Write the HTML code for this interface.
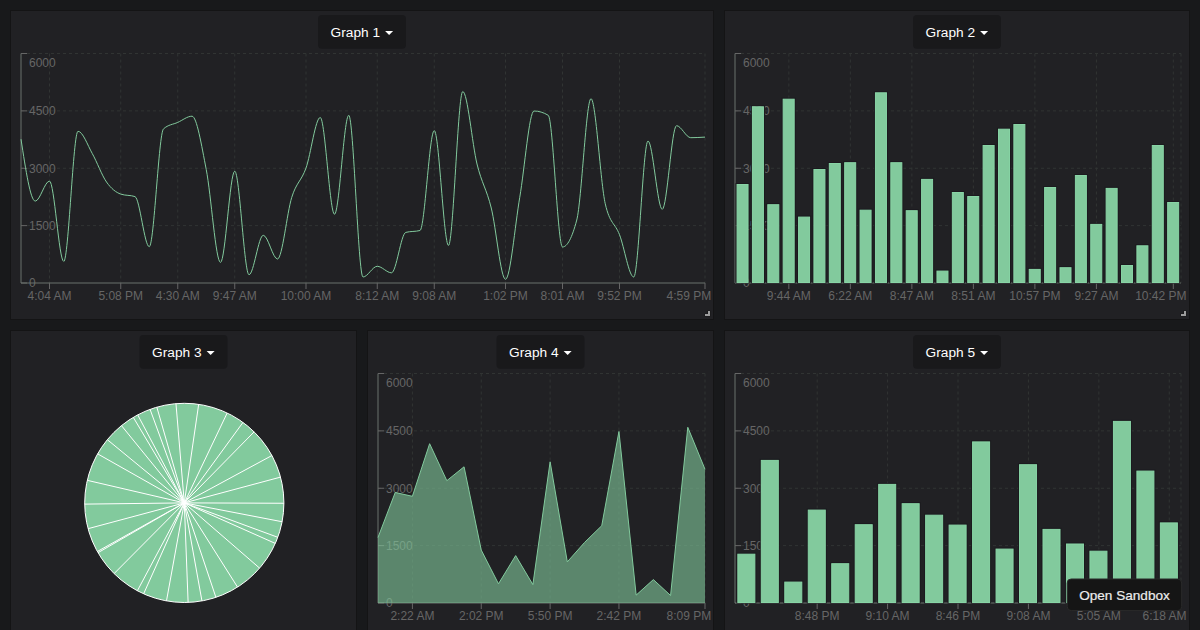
<!DOCTYPE html><html><head><meta charset="utf-8"><style>
html,body{margin:0;padding:0;background:#18191b;width:1200px;height:630px;overflow:hidden}
svg{display:block}
.t{font-family:"Liberation Sans",sans-serif;font-size:12px;fill:#666666}
.b{font-family:"Liberation Sans",sans-serif;font-size:13.7px;fill:#fff}
.s{font-family:"Liberation Sans",sans-serif;font-size:13.6px;fill:#ececec;stroke:#ececec;stroke-width:0.2px}
</style></head><body>
<svg width="1200" height="630" viewBox="0 0 1200 630">
<rect width="1200" height="630" fill="#18191b"/>
<rect x="10" y="10" width="704" height="310" fill="#141415"/><rect x="11" y="11" width="702" height="308" fill="#212124"/>
<rect x="724" y="10" width="466" height="310" fill="#141415"/><rect x="725" y="11" width="464" height="308" fill="#212124"/>
<rect x="10" y="330" width="347" height="310" fill="#141415"/><rect x="11" y="331" width="345" height="308" fill="#212124"/>
<rect x="367" y="330" width="347" height="310" fill="#141415"/><rect x="368" y="331" width="345" height="308" fill="#212124"/>
<rect x="724" y="330" width="466" height="310" fill="#141415"/><rect x="725" y="331" width="464" height="308" fill="#212124"/>
<line x1="21.00" y1="53.50" x2="705.00" y2="53.50" stroke="#313433" stroke-dasharray="3 3"/>
<line x1="21.00" y1="110.88" x2="705.00" y2="110.88" stroke="#313433" stroke-dasharray="3 3"/>
<line x1="21.00" y1="168.25" x2="705.00" y2="168.25" stroke="#313433" stroke-dasharray="3 3"/>
<line x1="21.00" y1="225.62" x2="705.00" y2="225.62" stroke="#313433" stroke-dasharray="3 3"/>
<line x1="49.50" y1="53.50" x2="49.50" y2="283.00" stroke="#313433" stroke-dasharray="3 3"/>
<line x1="120.75" y1="53.50" x2="120.75" y2="283.00" stroke="#313433" stroke-dasharray="3 3"/>
<line x1="177.75" y1="53.50" x2="177.75" y2="283.00" stroke="#313433" stroke-dasharray="3 3"/>
<line x1="234.75" y1="53.50" x2="234.75" y2="283.00" stroke="#313433" stroke-dasharray="3 3"/>
<line x1="306.00" y1="53.50" x2="306.00" y2="283.00" stroke="#313433" stroke-dasharray="3 3"/>
<line x1="377.25" y1="53.50" x2="377.25" y2="283.00" stroke="#313433" stroke-dasharray="3 3"/>
<line x1="434.25" y1="53.50" x2="434.25" y2="283.00" stroke="#313433" stroke-dasharray="3 3"/>
<line x1="505.50" y1="53.50" x2="505.50" y2="283.00" stroke="#313433" stroke-dasharray="3 3"/>
<line x1="562.50" y1="53.50" x2="562.50" y2="283.00" stroke="#313433" stroke-dasharray="3 3"/>
<line x1="619.50" y1="53.50" x2="619.50" y2="283.00" stroke="#313433" stroke-dasharray="3 3"/>
<line x1="705.00" y1="53.50" x2="705.00" y2="283.00" stroke="#313433" stroke-dasharray="3 3"/>
<line x1="21.00" y1="53.50" x2="21.00" y2="283.00" stroke="#6b736d"/>
<line x1="21.00" y1="53.50" x2="27.00" y2="53.50" stroke="#666666"/>
<text x="29.00" y="66.90" class="t">6000</text>
<line x1="21.00" y1="110.88" x2="27.00" y2="110.88" stroke="#666666"/>
<text x="29.00" y="115.17" class="t">4500</text>
<line x1="21.00" y1="168.25" x2="27.00" y2="168.25" stroke="#666666"/>
<text x="29.00" y="172.55" class="t">3000</text>
<line x1="21.00" y1="225.62" x2="27.00" y2="225.62" stroke="#666666"/>
<text x="29.00" y="229.93" class="t">1500</text>
<line x1="21.00" y1="283.00" x2="27.00" y2="283.00" stroke="#666666"/>
<text x="29.00" y="287.30" class="t">0</text>
<line x1="21.00" y1="283.00" x2="705.00" y2="283.00" stroke="#6b736d"/>
<line x1="49.50" y1="283.00" x2="49.50" y2="289.00" stroke="#666666"/>
<text x="49.50" y="299.70" class="t" text-anchor="middle">4:04 AM</text>
<line x1="120.75" y1="283.00" x2="120.75" y2="289.00" stroke="#666666"/>
<text x="120.75" y="299.70" class="t" text-anchor="middle">5:08 PM</text>
<line x1="177.75" y1="283.00" x2="177.75" y2="289.00" stroke="#666666"/>
<text x="177.75" y="299.70" class="t" text-anchor="middle">4:30 AM</text>
<line x1="234.75" y1="283.00" x2="234.75" y2="289.00" stroke="#666666"/>
<text x="234.75" y="299.70" class="t" text-anchor="middle">9:47 AM</text>
<line x1="306.00" y1="283.00" x2="306.00" y2="289.00" stroke="#666666"/>
<text x="306.00" y="299.70" class="t" text-anchor="middle">10:00 AM</text>
<line x1="377.25" y1="283.00" x2="377.25" y2="289.00" stroke="#666666"/>
<text x="377.25" y="299.70" class="t" text-anchor="middle">8:12 AM</text>
<line x1="434.25" y1="283.00" x2="434.25" y2="289.00" stroke="#666666"/>
<text x="434.25" y="299.70" class="t" text-anchor="middle">9:08 AM</text>
<line x1="505.50" y1="283.00" x2="505.50" y2="289.00" stroke="#666666"/>
<text x="505.50" y="299.70" class="t" text-anchor="middle">1:02 PM</text>
<line x1="562.50" y1="283.00" x2="562.50" y2="289.00" stroke="#666666"/>
<text x="562.50" y="299.70" class="t" text-anchor="middle">8:01 AM</text>
<line x1="619.50" y1="283.00" x2="619.50" y2="289.00" stroke="#666666"/>
<text x="619.50" y="299.70" class="t" text-anchor="middle">9:52 PM</text>
<line x1="705.00" y1="283.00" x2="705.00" y2="289.00" stroke="#666666"/>
<text x="711.20" y="299.70" class="t" text-anchor="end">4:59 PM</text>
<path d="M21.00,139.20C25.75,170.15,30.50,201.10,35.25,201.10C40.00,201.10,44.75,181.10,49.50,181.10C54.25,181.10,59.00,261.40,63.75,261.40C68.50,261.40,73.25,131.30,78.00,131.30C82.75,131.30,87.50,145.05,92.25,153.50C97.00,161.95,101.75,175.23,106.50,182.00C111.25,188.77,116.00,192.43,120.75,194.10C125.50,195.77,130.25,194.93,135.00,196.60C139.75,198.27,144.50,246.70,149.25,246.70C154.00,246.70,158.75,133.23,163.50,128.90C168.25,124.57,173.00,124.52,177.75,122.40C182.50,120.28,187.25,116.20,192.00,116.20C196.75,116.20,201.50,145.23,206.25,169.60C211.00,193.97,215.75,262.40,220.50,262.40C225.25,262.40,230.00,171.20,234.75,171.20C239.50,171.20,244.25,274.70,249.00,274.70C253.75,274.70,258.50,235.30,263.25,235.30C268.00,235.30,272.75,259.00,277.50,259.00C282.25,259.00,287.00,212.47,291.75,197.30C296.50,182.13,301.25,181.30,306.00,168.00C310.75,154.70,315.50,117.50,320.25,117.50C325.00,117.50,329.75,214.20,334.50,214.20C339.25,214.20,344.00,115.30,348.75,115.30C353.50,115.30,358.25,277.00,363.00,277.00C367.75,277.00,372.50,266.30,377.25,266.30C382.00,266.30,386.75,272.80,391.50,272.80C396.25,272.80,401.00,233.67,405.75,232.40C410.50,231.13,415.25,231.77,420.00,230.50C424.75,229.23,429.50,130.60,434.25,130.60C439.00,130.60,443.75,245.40,448.50,245.40C453.25,245.40,458.00,91.50,462.75,91.50C467.50,91.50,472.25,144.58,477.00,164.00C481.75,183.42,486.50,188.78,491.25,208.00C496.00,227.22,500.75,279.30,505.50,279.30C510.25,279.30,515.00,225.35,519.75,197.30C524.50,169.25,529.25,111.00,534.00,111.00C538.75,111.00,543.50,112.43,548.25,115.30C553.00,118.17,557.75,247.00,562.50,247.00C567.25,247.00,572.00,238.00,576.75,220.00C581.50,202.00,586.25,98.70,591.00,98.70C595.75,98.70,600.50,183.20,605.25,203.80C610.00,224.40,614.75,222.50,619.50,234.70C624.25,246.90,629.00,277.00,633.75,277.00C638.50,277.00,643.25,141.00,648.00,141.00C652.75,141.00,657.50,209.30,662.25,209.30C667.00,209.30,671.75,125.70,676.50,125.70C681.25,125.70,686.00,137.70,690.75,137.70C695.50,137.70,700.25,137.40,705.00,137.10" fill="none" stroke="#82ca9d" stroke-width="1"/>
<rect x="318.00" y="15.10" width="88.00" height="33.6" rx="4" fill="#19191b"/>
<text x="330.60" y="37.10" class="b">Graph 1</text>
<path d="M385.10,30.90h8l-4,4z" fill="#fff"/>
<path d="M705.0,316.0h5v-5h-2v3h-3z" fill="none" stroke="#141414" stroke-width="1.2" stroke-opacity="0.7"/><path d="M705.0,316.0h5v-5h-2v3h-3z" fill="#9d9d9d"/>
<line x1="735.00" y1="53.50" x2="1181.00" y2="53.50" stroke="#313433" stroke-dasharray="3 3"/>
<line x1="735.00" y1="110.88" x2="1181.00" y2="110.88" stroke="#313433" stroke-dasharray="3 3"/>
<line x1="735.00" y1="168.25" x2="1181.00" y2="168.25" stroke="#313433" stroke-dasharray="3 3"/>
<line x1="735.00" y1="225.62" x2="1181.00" y2="225.62" stroke="#313433" stroke-dasharray="3 3"/>
<line x1="788.83" y1="53.50" x2="788.83" y2="283.00" stroke="#313433" stroke-dasharray="3 3"/>
<line x1="850.34" y1="53.50" x2="850.34" y2="283.00" stroke="#313433" stroke-dasharray="3 3"/>
<line x1="911.86" y1="53.50" x2="911.86" y2="283.00" stroke="#313433" stroke-dasharray="3 3"/>
<line x1="973.38" y1="53.50" x2="973.38" y2="283.00" stroke="#313433" stroke-dasharray="3 3"/>
<line x1="1034.90" y1="53.50" x2="1034.90" y2="283.00" stroke="#313433" stroke-dasharray="3 3"/>
<line x1="1096.41" y1="53.50" x2="1096.41" y2="283.00" stroke="#313433" stroke-dasharray="3 3"/>
<line x1="1173.31" y1="53.50" x2="1173.31" y2="283.00" stroke="#313433" stroke-dasharray="3 3"/>
<line x1="1181.00" y1="53.50" x2="1181.00" y2="283.00" stroke="#313433" stroke-dasharray="3 3"/>
<line x1="735.00" y1="53.50" x2="735.00" y2="283.00" stroke="#6b736d"/>
<line x1="735.00" y1="53.50" x2="741.00" y2="53.50" stroke="#666666"/>
<text x="743.00" y="66.90" class="t">6000</text>
<line x1="735.00" y1="110.88" x2="741.00" y2="110.88" stroke="#666666"/>
<text x="743.00" y="115.17" class="t">4500</text>
<line x1="735.00" y1="168.25" x2="741.00" y2="168.25" stroke="#666666"/>
<text x="743.00" y="172.55" class="t">3000</text>
<line x1="735.00" y1="225.62" x2="741.00" y2="225.62" stroke="#666666"/>
<text x="743.00" y="229.93" class="t">1500</text>
<line x1="735.00" y1="283.00" x2="741.00" y2="283.00" stroke="#666666"/>
<text x="743.00" y="287.30" class="t">0</text>
<line x1="735.00" y1="283.00" x2="1181.00" y2="283.00" stroke="#6b736d"/>
<line x1="788.83" y1="283.00" x2="788.83" y2="289.00" stroke="#666666"/>
<text x="788.83" y="299.70" class="t" text-anchor="middle">9:44 AM</text>
<line x1="850.34" y1="283.00" x2="850.34" y2="289.00" stroke="#666666"/>
<text x="850.34" y="299.70" class="t" text-anchor="middle">6:22 AM</text>
<line x1="911.86" y1="283.00" x2="911.86" y2="289.00" stroke="#666666"/>
<text x="911.86" y="299.70" class="t" text-anchor="middle">8:47 AM</text>
<line x1="973.38" y1="283.00" x2="973.38" y2="289.00" stroke="#666666"/>
<text x="973.38" y="299.70" class="t" text-anchor="middle">8:51 AM</text>
<line x1="1034.90" y1="283.00" x2="1034.90" y2="289.00" stroke="#666666"/>
<text x="1034.90" y="299.70" class="t" text-anchor="middle">10:57 PM</text>
<line x1="1096.41" y1="283.00" x2="1096.41" y2="289.00" stroke="#666666"/>
<text x="1096.41" y="299.70" class="t" text-anchor="middle">9:27 AM</text>
<line x1="1173.31" y1="283.00" x2="1173.31" y2="289.00" stroke="#666666"/>
<text x="1186.50" y="299.70" class="t" text-anchor="end">10:42 PM</text>
<rect x="736.04" y="183.50" width="13.00" height="99.50" fill="none" stroke="#1b1a1e" stroke-width="1"/><rect x="737.04" y="184.50" width="11.00" height="98.00" fill="#82ca9d" stroke="#88d4a5" stroke-width="1"/>
<rect x="751.42" y="105.80" width="13.00" height="177.20" fill="none" stroke="#1b1a1e" stroke-width="1"/><rect x="752.42" y="106.80" width="11.00" height="175.70" fill="#82ca9d" stroke="#88d4a5" stroke-width="1"/>
<rect x="766.80" y="203.70" width="13.00" height="79.30" fill="none" stroke="#1b1a1e" stroke-width="1"/><rect x="767.80" y="204.70" width="11.00" height="77.80" fill="#82ca9d" stroke="#88d4a5" stroke-width="1"/>
<rect x="782.18" y="98.20" width="13.00" height="184.80" fill="none" stroke="#1b1a1e" stroke-width="1"/><rect x="783.18" y="99.20" width="11.00" height="183.30" fill="#82ca9d" stroke="#88d4a5" stroke-width="1"/>
<rect x="797.56" y="216.10" width="13.00" height="66.90" fill="none" stroke="#1b1a1e" stroke-width="1"/><rect x="798.56" y="217.10" width="11.00" height="65.40" fill="#82ca9d" stroke="#88d4a5" stroke-width="1"/>
<rect x="812.93" y="168.50" width="13.00" height="114.50" fill="none" stroke="#1b1a1e" stroke-width="1"/><rect x="813.93" y="169.50" width="11.00" height="113.00" fill="#82ca9d" stroke="#88d4a5" stroke-width="1"/>
<rect x="828.31" y="162.50" width="13.00" height="120.50" fill="none" stroke="#1b1a1e" stroke-width="1"/><rect x="829.31" y="163.50" width="11.00" height="119.00" fill="#82ca9d" stroke="#88d4a5" stroke-width="1"/>
<rect x="843.69" y="161.70" width="13.00" height="121.30" fill="none" stroke="#1b1a1e" stroke-width="1"/><rect x="844.69" y="162.70" width="11.00" height="119.80" fill="#82ca9d" stroke="#88d4a5" stroke-width="1"/>
<rect x="859.07" y="209.20" width="13.00" height="73.80" fill="none" stroke="#1b1a1e" stroke-width="1"/><rect x="860.07" y="210.20" width="11.00" height="72.30" fill="#82ca9d" stroke="#88d4a5" stroke-width="1"/>
<rect x="874.45" y="91.80" width="13.00" height="191.20" fill="none" stroke="#1b1a1e" stroke-width="1"/><rect x="875.45" y="92.80" width="11.00" height="189.70" fill="#82ca9d" stroke="#88d4a5" stroke-width="1"/>
<rect x="889.83" y="161.70" width="13.00" height="121.30" fill="none" stroke="#1b1a1e" stroke-width="1"/><rect x="890.83" y="162.70" width="11.00" height="119.80" fill="#82ca9d" stroke="#88d4a5" stroke-width="1"/>
<rect x="905.21" y="209.70" width="13.00" height="73.30" fill="none" stroke="#1b1a1e" stroke-width="1"/><rect x="906.21" y="210.70" width="11.00" height="71.80" fill="#82ca9d" stroke="#88d4a5" stroke-width="1"/>
<rect x="920.59" y="178.40" width="13.00" height="104.60" fill="none" stroke="#1b1a1e" stroke-width="1"/><rect x="921.59" y="179.40" width="11.00" height="103.10" fill="#82ca9d" stroke="#88d4a5" stroke-width="1"/>
<rect x="935.97" y="270.10" width="13.00" height="12.90" fill="none" stroke="#1b1a1e" stroke-width="1"/><rect x="936.97" y="271.10" width="11.00" height="11.40" fill="#82ca9d" stroke="#88d4a5" stroke-width="1"/>
<rect x="951.35" y="191.50" width="13.00" height="91.50" fill="none" stroke="#1b1a1e" stroke-width="1"/><rect x="952.35" y="192.50" width="11.00" height="90.00" fill="#82ca9d" stroke="#88d4a5" stroke-width="1"/>
<rect x="966.73" y="195.50" width="13.00" height="87.50" fill="none" stroke="#1b1a1e" stroke-width="1"/><rect x="967.73" y="196.50" width="11.00" height="86.00" fill="#82ca9d" stroke="#88d4a5" stroke-width="1"/>
<rect x="982.11" y="144.50" width="13.00" height="138.50" fill="none" stroke="#1b1a1e" stroke-width="1"/><rect x="983.11" y="145.50" width="11.00" height="137.00" fill="#82ca9d" stroke="#88d4a5" stroke-width="1"/>
<rect x="997.49" y="128.20" width="13.00" height="154.80" fill="none" stroke="#1b1a1e" stroke-width="1"/><rect x="998.49" y="129.20" width="11.00" height="153.30" fill="#82ca9d" stroke="#88d4a5" stroke-width="1"/>
<rect x="1012.87" y="123.50" width="13.00" height="159.50" fill="none" stroke="#1b1a1e" stroke-width="1"/><rect x="1013.87" y="124.50" width="11.00" height="158.00" fill="#82ca9d" stroke="#88d4a5" stroke-width="1"/>
<rect x="1028.24" y="268.40" width="13.00" height="14.60" fill="none" stroke="#1b1a1e" stroke-width="1"/><rect x="1029.24" y="269.40" width="11.00" height="13.10" fill="#82ca9d" stroke="#88d4a5" stroke-width="1"/>
<rect x="1043.62" y="186.50" width="13.00" height="96.50" fill="none" stroke="#1b1a1e" stroke-width="1"/><rect x="1044.62" y="187.50" width="11.00" height="95.00" fill="#82ca9d" stroke="#88d4a5" stroke-width="1"/>
<rect x="1059.00" y="266.70" width="13.00" height="16.30" fill="none" stroke="#1b1a1e" stroke-width="1"/><rect x="1060.00" y="267.70" width="11.00" height="14.80" fill="#82ca9d" stroke="#88d4a5" stroke-width="1"/>
<rect x="1074.38" y="174.50" width="13.00" height="108.50" fill="none" stroke="#1b1a1e" stroke-width="1"/><rect x="1075.38" y="175.50" width="11.00" height="107.00" fill="#82ca9d" stroke="#88d4a5" stroke-width="1"/>
<rect x="1089.76" y="223.40" width="13.00" height="59.60" fill="none" stroke="#1b1a1e" stroke-width="1"/><rect x="1090.76" y="224.40" width="11.00" height="58.10" fill="#82ca9d" stroke="#88d4a5" stroke-width="1"/>
<rect x="1105.14" y="187.40" width="13.00" height="95.60" fill="none" stroke="#1b1a1e" stroke-width="1"/><rect x="1106.14" y="188.40" width="11.00" height="94.10" fill="#82ca9d" stroke="#88d4a5" stroke-width="1"/>
<rect x="1120.52" y="264.50" width="13.00" height="18.50" fill="none" stroke="#1b1a1e" stroke-width="1"/><rect x="1121.52" y="265.50" width="11.00" height="17.00" fill="#82ca9d" stroke="#88d4a5" stroke-width="1"/>
<rect x="1135.90" y="244.80" width="13.00" height="38.20" fill="none" stroke="#1b1a1e" stroke-width="1"/><rect x="1136.90" y="245.80" width="11.00" height="36.70" fill="#82ca9d" stroke="#88d4a5" stroke-width="1"/>
<rect x="1151.28" y="144.50" width="13.00" height="138.50" fill="none" stroke="#1b1a1e" stroke-width="1"/><rect x="1152.28" y="145.50" width="11.00" height="137.00" fill="#82ca9d" stroke="#88d4a5" stroke-width="1"/>
<rect x="1166.66" y="201.50" width="13.00" height="81.50" fill="none" stroke="#1b1a1e" stroke-width="1"/><rect x="1167.66" y="202.50" width="11.00" height="80.00" fill="#82ca9d" stroke="#88d4a5" stroke-width="1"/>
<rect x="913.00" y="15.10" width="88.00" height="33.6" rx="4" fill="#19191b"/>
<text x="925.60" y="37.10" class="b">Graph 2</text>
<path d="M980.10,30.90h8l-4,4z" fill="#fff"/>
<path d="M1181.0,316.0h5v-5h-2v3h-3z" fill="none" stroke="#141414" stroke-width="1.2" stroke-opacity="0.7"/><path d="M1181.0,316.0h5v-5h-2v3h-3z" fill="#9d9d9d"/>
<circle cx="184.30" cy="502.90" r="99.60" fill="#82ca9d" stroke="#fff" stroke-width="1"/>
<line x1="184.30" y1="502.90" x2="198.68" y2="404.34" stroke="#fff" stroke-width="1"/>
<line x1="184.30" y1="502.90" x2="227.18" y2="413.00" stroke="#fff" stroke-width="1"/>
<line x1="184.30" y1="502.90" x2="242.98" y2="422.42" stroke="#fff" stroke-width="1"/>
<line x1="184.30" y1="502.90" x2="254.11" y2="431.86" stroke="#fff" stroke-width="1"/>
<line x1="184.30" y1="502.90" x2="271.91" y2="455.53" stroke="#fff" stroke-width="1"/>
<line x1="184.30" y1="502.90" x2="280.51" y2="477.12" stroke="#fff" stroke-width="1"/>
<line x1="184.30" y1="502.90" x2="283.90" y2="503.25" stroke="#fff" stroke-width="1"/>
<line x1="184.30" y1="502.90" x2="282.10" y2="521.73" stroke="#fff" stroke-width="1"/>
<line x1="184.30" y1="502.90" x2="277.77" y2="537.29" stroke="#fff" stroke-width="1"/>
<line x1="184.30" y1="502.90" x2="275.29" y2="543.41" stroke="#fff" stroke-width="1"/>
<line x1="184.30" y1="502.90" x2="259.58" y2="568.11" stroke="#fff" stroke-width="1"/>
<line x1="184.30" y1="502.90" x2="237.52" y2="587.09" stroke="#fff" stroke-width="1"/>
<line x1="184.30" y1="502.90" x2="215.90" y2="597.35" stroke="#fff" stroke-width="1"/>
<line x1="184.30" y1="502.90" x2="201.94" y2="600.93" stroke="#fff" stroke-width="1"/>
<line x1="184.30" y1="502.90" x2="188.12" y2="602.43" stroke="#fff" stroke-width="1"/>
<line x1="184.30" y1="502.90" x2="166.49" y2="600.89" stroke="#fff" stroke-width="1"/>
<line x1="184.30" y1="502.90" x2="143.63" y2="593.82" stroke="#fff" stroke-width="1"/>
<line x1="184.30" y1="502.90" x2="137.39" y2="590.76" stroke="#fff" stroke-width="1"/>
<line x1="184.30" y1="502.90" x2="114.12" y2="573.57" stroke="#fff" stroke-width="1"/>
<line x1="184.30" y1="502.90" x2="98.04" y2="552.70" stroke="#fff" stroke-width="1"/>
<line x1="184.30" y1="502.90" x2="97.36" y2="551.49" stroke="#fff" stroke-width="1"/>
<line x1="184.30" y1="502.90" x2="88.09" y2="528.68" stroke="#fff" stroke-width="1"/>
<line x1="184.30" y1="502.90" x2="84.71" y2="504.12" stroke="#fff" stroke-width="1"/>
<line x1="184.30" y1="502.90" x2="87.29" y2="480.33" stroke="#fff" stroke-width="1"/>
<line x1="184.30" y1="502.90" x2="97.61" y2="453.85" stroke="#fff" stroke-width="1"/>
<line x1="184.30" y1="502.90" x2="107.34" y2="439.68" stroke="#fff" stroke-width="1"/>
<line x1="184.30" y1="502.90" x2="121.48" y2="425.61" stroke="#fff" stroke-width="1"/>
<line x1="184.30" y1="502.90" x2="133.30" y2="417.35" stroke="#fff" stroke-width="1"/>
<line x1="184.30" y1="502.90" x2="137.69" y2="414.88" stroke="#fff" stroke-width="1"/>
<line x1="184.30" y1="502.90" x2="150.07" y2="409.37" stroke="#fff" stroke-width="1"/>
<line x1="184.30" y1="502.90" x2="156.85" y2="407.16" stroke="#fff" stroke-width="1"/>
<line x1="184.30" y1="502.90" x2="175.97" y2="403.65" stroke="#fff" stroke-width="1"/>
<rect x="139.50" y="335.10" width="88.00" height="33.6" rx="4" fill="#19191b"/>
<text x="152.10" y="357.10" class="b">Graph 3</text>
<path d="M206.60,350.90h8l-4,4z" fill="#fff"/>
<line x1="378.00" y1="373.50" x2="705.00" y2="373.50" stroke="#313433" stroke-dasharray="3 3"/>
<line x1="378.00" y1="430.88" x2="705.00" y2="430.88" stroke="#313433" stroke-dasharray="3 3"/>
<line x1="378.00" y1="488.25" x2="705.00" y2="488.25" stroke="#313433" stroke-dasharray="3 3"/>
<line x1="378.00" y1="545.62" x2="705.00" y2="545.62" stroke="#313433" stroke-dasharray="3 3"/>
<line x1="412.42" y1="373.50" x2="412.42" y2="603.00" stroke="#313433" stroke-dasharray="3 3"/>
<line x1="481.26" y1="373.50" x2="481.26" y2="603.00" stroke="#313433" stroke-dasharray="3 3"/>
<line x1="550.11" y1="373.50" x2="550.11" y2="603.00" stroke="#313433" stroke-dasharray="3 3"/>
<line x1="618.95" y1="373.50" x2="618.95" y2="603.00" stroke="#313433" stroke-dasharray="3 3"/>
<line x1="705.00" y1="373.50" x2="705.00" y2="603.00" stroke="#313433" stroke-dasharray="3 3"/>
<line x1="378.00" y1="373.50" x2="378.00" y2="603.00" stroke="#6b736d"/>
<line x1="378.00" y1="373.50" x2="384.00" y2="373.50" stroke="#666666"/>
<text x="386.00" y="386.90" class="t">6000</text>
<line x1="378.00" y1="430.88" x2="384.00" y2="430.88" stroke="#666666"/>
<text x="386.00" y="435.18" class="t">4500</text>
<line x1="378.00" y1="488.25" x2="384.00" y2="488.25" stroke="#666666"/>
<text x="386.00" y="492.55" class="t">3000</text>
<line x1="378.00" y1="545.62" x2="384.00" y2="545.62" stroke="#666666"/>
<text x="386.00" y="549.92" class="t">1500</text>
<line x1="378.00" y1="603.00" x2="384.00" y2="603.00" stroke="#666666"/>
<text x="386.00" y="607.30" class="t">0</text>
<line x1="378.00" y1="603.00" x2="705.00" y2="603.00" stroke="#6b736d"/>
<line x1="412.42" y1="603.00" x2="412.42" y2="609.00" stroke="#666666"/>
<text x="412.42" y="619.70" class="t" text-anchor="middle">2:22 AM</text>
<line x1="481.26" y1="603.00" x2="481.26" y2="609.00" stroke="#666666"/>
<text x="481.26" y="619.70" class="t" text-anchor="middle">2:02 PM</text>
<line x1="550.11" y1="603.00" x2="550.11" y2="609.00" stroke="#666666"/>
<text x="550.11" y="619.70" class="t" text-anchor="middle">5:50 PM</text>
<line x1="618.95" y1="603.00" x2="618.95" y2="609.00" stroke="#666666"/>
<text x="618.95" y="619.70" class="t" text-anchor="middle">2:42 PM</text>
<line x1="705.00" y1="603.00" x2="705.00" y2="609.00" stroke="#666666"/>
<text x="711.20" y="619.70" class="t" text-anchor="end">8:09 PM</text>
<path d="M378.00,537.50 L395.21,492.50 L412.42,496.30 L429.63,443.70 L446.84,480.70 L464.05,466.80 L481.26,550.10 L498.47,583.80 L515.68,555.60 L532.89,584.60 L550.11,461.80 L567.32,561.90 L584.53,542.50 L601.74,525.70 L618.95,431.50 L636.16,595.10 L653.37,579.60 L670.58,595.50 L687.79,427.30 L705.00,469.30 L705.00,603.00 L378.00,603.00 Z" fill="#82ca9d" fill-opacity="0.6"/>
<path d="M378.00,537.50 L395.21,492.50 L412.42,496.30 L429.63,443.70 L446.84,480.70 L464.05,466.80 L481.26,550.10 L498.47,583.80 L515.68,555.60 L532.89,584.60 L550.11,461.80 L567.32,561.90 L584.53,542.50 L601.74,525.70 L618.95,431.50 L636.16,595.10 L653.37,579.60 L670.58,595.50 L687.79,427.30 L705.00,469.30" fill="none" stroke="#82ca9d"/>
<rect x="496.50" y="335.10" width="88.00" height="33.6" rx="4" fill="#19191b"/>
<text x="509.10" y="357.10" class="b">Graph 4</text>
<path d="M563.60,350.90h8l-4,4z" fill="#fff"/>
<line x1="735.00" y1="373.50" x2="1181.00" y2="373.50" stroke="#313433" stroke-dasharray="3 3"/>
<line x1="735.00" y1="430.88" x2="1181.00" y2="430.88" stroke="#313433" stroke-dasharray="3 3"/>
<line x1="735.00" y1="488.25" x2="1181.00" y2="488.25" stroke="#313433" stroke-dasharray="3 3"/>
<line x1="735.00" y1="545.62" x2="1181.00" y2="545.62" stroke="#313433" stroke-dasharray="3 3"/>
<line x1="817.16" y1="373.50" x2="817.16" y2="603.00" stroke="#313433" stroke-dasharray="3 3"/>
<line x1="887.58" y1="373.50" x2="887.58" y2="603.00" stroke="#313433" stroke-dasharray="3 3"/>
<line x1="958.00" y1="373.50" x2="958.00" y2="603.00" stroke="#313433" stroke-dasharray="3 3"/>
<line x1="1028.42" y1="373.50" x2="1028.42" y2="603.00" stroke="#313433" stroke-dasharray="3 3"/>
<line x1="1098.84" y1="373.50" x2="1098.84" y2="603.00" stroke="#313433" stroke-dasharray="3 3"/>
<line x1="1169.26" y1="373.50" x2="1169.26" y2="603.00" stroke="#313433" stroke-dasharray="3 3"/>
<line x1="1181.00" y1="373.50" x2="1181.00" y2="603.00" stroke="#313433" stroke-dasharray="3 3"/>
<line x1="735.00" y1="373.50" x2="735.00" y2="603.00" stroke="#6b736d"/>
<line x1="735.00" y1="373.50" x2="741.00" y2="373.50" stroke="#666666"/>
<text x="743.00" y="386.90" class="t">6000</text>
<line x1="735.00" y1="430.88" x2="741.00" y2="430.88" stroke="#666666"/>
<text x="743.00" y="435.18" class="t">4500</text>
<line x1="735.00" y1="488.25" x2="741.00" y2="488.25" stroke="#666666"/>
<text x="743.00" y="492.55" class="t">3000</text>
<line x1="735.00" y1="545.62" x2="741.00" y2="545.62" stroke="#666666"/>
<text x="743.00" y="549.92" class="t">1500</text>
<line x1="735.00" y1="603.00" x2="741.00" y2="603.00" stroke="#666666"/>
<text x="743.00" y="607.30" class="t">0</text>
<line x1="735.00" y1="603.00" x2="1181.00" y2="603.00" stroke="#6b736d"/>
<line x1="817.16" y1="603.00" x2="817.16" y2="609.00" stroke="#666666"/>
<text x="817.16" y="619.70" class="t" text-anchor="middle">8:48 PM</text>
<line x1="887.58" y1="603.00" x2="887.58" y2="609.00" stroke="#666666"/>
<text x="887.58" y="619.70" class="t" text-anchor="middle">9:10 AM</text>
<line x1="958.00" y1="603.00" x2="958.00" y2="609.00" stroke="#666666"/>
<text x="958.00" y="619.70" class="t" text-anchor="middle">8:46 PM</text>
<line x1="1028.42" y1="603.00" x2="1028.42" y2="609.00" stroke="#666666"/>
<text x="1028.42" y="619.70" class="t" text-anchor="middle">9:08 AM</text>
<line x1="1098.84" y1="603.00" x2="1098.84" y2="609.00" stroke="#666666"/>
<text x="1098.84" y="619.70" class="t" text-anchor="middle">5:05 AM</text>
<line x1="1169.26" y1="603.00" x2="1169.26" y2="609.00" stroke="#666666"/>
<text x="1186.50" y="619.70" class="t" text-anchor="end">6:18 AM</text>
<rect x="736.85" y="553.20" width="19.00" height="49.80" fill="none" stroke="#1b1a1e" stroke-width="1"/><rect x="737.85" y="554.20" width="17.00" height="48.30" fill="#82ca9d" stroke="#88d4a5" stroke-width="1"/>
<rect x="760.32" y="459.40" width="19.00" height="143.60" fill="none" stroke="#1b1a1e" stroke-width="1"/><rect x="761.32" y="460.40" width="17.00" height="142.10" fill="#82ca9d" stroke="#88d4a5" stroke-width="1"/>
<rect x="783.79" y="581.10" width="19.00" height="21.90" fill="none" stroke="#1b1a1e" stroke-width="1"/><rect x="784.79" y="582.10" width="17.00" height="20.40" fill="#82ca9d" stroke="#88d4a5" stroke-width="1"/>
<rect x="807.27" y="509.10" width="19.00" height="93.90" fill="none" stroke="#1b1a1e" stroke-width="1"/><rect x="808.27" y="510.10" width="17.00" height="92.40" fill="#82ca9d" stroke="#88d4a5" stroke-width="1"/>
<rect x="830.74" y="562.70" width="19.00" height="40.30" fill="none" stroke="#1b1a1e" stroke-width="1"/><rect x="831.74" y="563.70" width="17.00" height="38.80" fill="#82ca9d" stroke="#88d4a5" stroke-width="1"/>
<rect x="854.22" y="523.70" width="19.00" height="79.30" fill="none" stroke="#1b1a1e" stroke-width="1"/><rect x="855.22" y="524.70" width="17.00" height="77.80" fill="#82ca9d" stroke="#88d4a5" stroke-width="1"/>
<rect x="877.69" y="483.40" width="19.00" height="119.60" fill="none" stroke="#1b1a1e" stroke-width="1"/><rect x="878.69" y="484.40" width="17.00" height="118.10" fill="#82ca9d" stroke="#88d4a5" stroke-width="1"/>
<rect x="901.16" y="502.70" width="19.00" height="100.30" fill="none" stroke="#1b1a1e" stroke-width="1"/><rect x="902.16" y="503.70" width="17.00" height="98.80" fill="#82ca9d" stroke="#88d4a5" stroke-width="1"/>
<rect x="924.64" y="514.20" width="19.00" height="88.80" fill="none" stroke="#1b1a1e" stroke-width="1"/><rect x="925.64" y="515.20" width="17.00" height="87.30" fill="#82ca9d" stroke="#88d4a5" stroke-width="1"/>
<rect x="948.11" y="524.10" width="19.00" height="78.90" fill="none" stroke="#1b1a1e" stroke-width="1"/><rect x="949.11" y="525.10" width="17.00" height="77.40" fill="#82ca9d" stroke="#88d4a5" stroke-width="1"/>
<rect x="971.58" y="440.90" width="19.00" height="162.10" fill="none" stroke="#1b1a1e" stroke-width="1"/><rect x="972.58" y="441.90" width="17.00" height="160.60" fill="#82ca9d" stroke="#88d4a5" stroke-width="1"/>
<rect x="995.06" y="548.10" width="19.00" height="54.90" fill="none" stroke="#1b1a1e" stroke-width="1"/><rect x="996.06" y="549.10" width="17.00" height="53.40" fill="#82ca9d" stroke="#88d4a5" stroke-width="1"/>
<rect x="1018.53" y="463.70" width="19.00" height="139.30" fill="none" stroke="#1b1a1e" stroke-width="1"/><rect x="1019.53" y="464.70" width="17.00" height="137.80" fill="#82ca9d" stroke="#88d4a5" stroke-width="1"/>
<rect x="1042.01" y="528.40" width="19.00" height="74.60" fill="none" stroke="#1b1a1e" stroke-width="1"/><rect x="1043.01" y="529.40" width="17.00" height="73.10" fill="#82ca9d" stroke="#88d4a5" stroke-width="1"/>
<rect x="1065.48" y="543.00" width="19.00" height="60.00" fill="none" stroke="#1b1a1e" stroke-width="1"/><rect x="1066.48" y="544.00" width="17.00" height="58.50" fill="#82ca9d" stroke="#88d4a5" stroke-width="1"/>
<rect x="1088.95" y="550.20" width="19.00" height="52.80" fill="none" stroke="#1b1a1e" stroke-width="1"/><rect x="1089.95" y="551.20" width="17.00" height="51.30" fill="#82ca9d" stroke="#88d4a5" stroke-width="1"/>
<rect x="1112.43" y="420.40" width="19.00" height="182.60" fill="none" stroke="#1b1a1e" stroke-width="1"/><rect x="1113.43" y="421.40" width="17.00" height="181.10" fill="#82ca9d" stroke="#88d4a5" stroke-width="1"/>
<rect x="1135.90" y="470.10" width="19.00" height="132.90" fill="none" stroke="#1b1a1e" stroke-width="1"/><rect x="1136.90" y="471.10" width="17.00" height="131.40" fill="#82ca9d" stroke="#88d4a5" stroke-width="1"/>
<rect x="1159.37" y="521.90" width="19.00" height="81.10" fill="none" stroke="#1b1a1e" stroke-width="1"/><rect x="1160.37" y="522.90" width="17.00" height="79.60" fill="#82ca9d" stroke="#88d4a5" stroke-width="1"/>
<rect x="913.00" y="335.10" width="88.00" height="33.6" rx="4" fill="#19191b"/>
<text x="925.60" y="357.10" class="b">Graph 5</text>
<path d="M980.10,350.90h8l-4,4z" fill="#fff"/>
<rect x="1067.2" y="579" width="114.5" height="31.6" rx="4" fill="#151515" stroke="#2a2a2a" stroke-width="1"/>
<text x="1124.5" y="599.8" class="s" text-anchor="middle">Open Sandbox</text>
</svg></body></html>
